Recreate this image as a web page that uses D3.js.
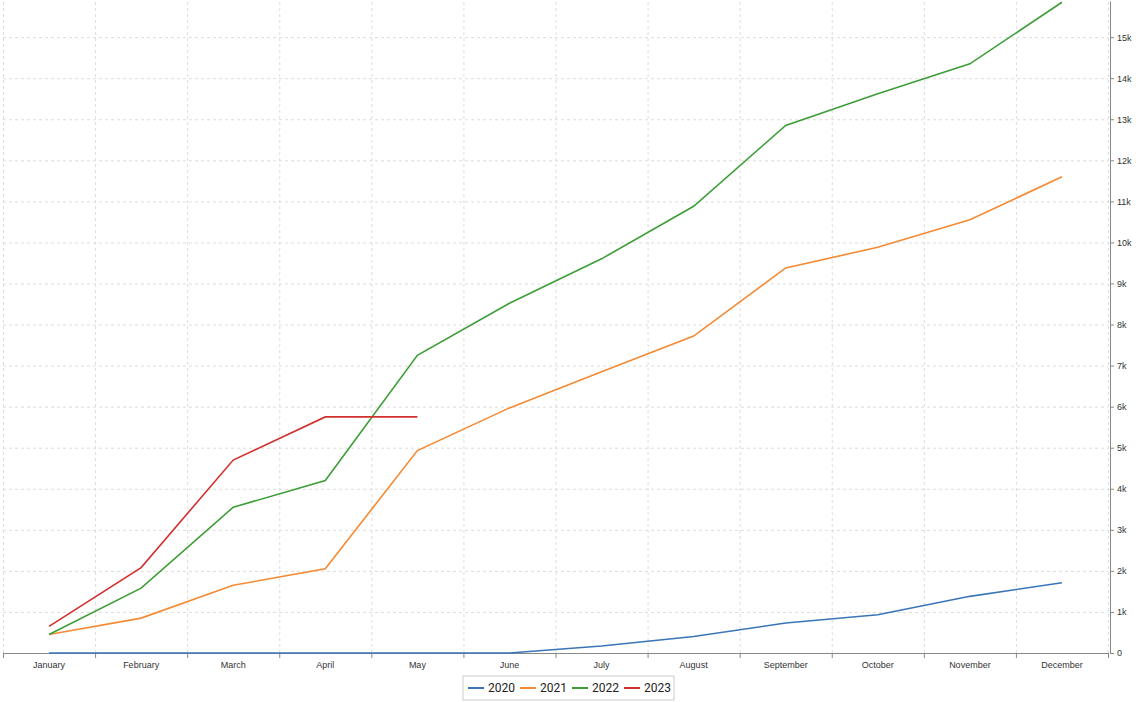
<!DOCTYPE html>
<html><head><meta charset="utf-8">
<script src="https://cdn.jsdelivr.net/npm/d3@7"></script>
<style>
body{margin:0;background:#fff;font-family:Roboto,"Noto Sans",sans-serif;}
.grid line{stroke:#ddd;stroke-dasharray:3,3;}
.grid path{display:none;}
.axis text{font-size:9px;fill:#333;}
.axis path,.axis line{stroke:#888;}
</style></head><body>
<svg id="chart" width="1140" height="702"></svg>
<script>
var months = ["January","February","March","April","May","June","July","August","September","October","November","December"];
var years = ["2020","2021","2022","2023"];
var colors = ["#3a75b9","#f58a33","#3d9e37","#d1302f"];
var v2020 = [0,0,0,0,0,0,170,400,730,930,1380,1710];
var v2021 = [450,850,1650,2050,4930,5970,6850,7720,9380,9880,10550,11600];
var v2022 = [450,1580,3550,4200,7250,8520,9600,10880,12850,13620,14350,15850];
var v2023 = [650,2080,4700,5750,5750];
var series = [v2020,v2021,v2022,v2023];
var yTicks = d3.range(0,16000,1000);

var drawChart = function () {
    var svg = d3.select("#chart");
    var pLeft = 3, pRight = 1108, pTop = 1, pBottom = 653;
    var x = d3.scaleBand().domain(months).range([pLeft,pRight]);
    var xEdges = d3.scaleLinear().domain([0,12]).range([pLeft,pRight]);
    var y = d3.scaleLinear().domain([0,15880]).range([pBottom,pTop]);

    svg.append("g").attr("class","grid")
        .attr("transform","translate(0,"+pBottom+")")
        .call(d3.axisBottom(xEdges).ticks(12).tickSize(-(pBottom-pTop)).tickFormat(""));
    svg.append("g").attr("class","grid")
        .attr("transform","translate("+pLeft+",0)")
        .call(d3.axisRight(y).tickValues(yTicks.slice(1)).tickSize(pRight-pLeft).tickFormat(""));

    svg.append("g").attr("class","axis")
        .attr("transform","translate(0,"+pBottom+")")
        .call(d3.axisBottom(x).tickSize(0).tickPadding(9))
        .call(function(g){ g.select(".domain").remove(); });
    svg.append("g").attr("class","axis")
        .attr("transform","translate(0,"+pBottom+")")
        .call(d3.axisBottom(xEdges).ticks(12).tickSize(5).tickSizeOuter(0).tickFormat(""));
    svg.append("g").attr("class","axis")
        .attr("transform","translate("+(pRight+2)+",0)")
        .call(d3.axisRight(y).tickValues(yTicks).tickSize(4).tickSizeOuter(0)
            .tickFormat(function(d){ return d===0 ? "0" : (d/1000)+"k"; }));

    var line = d3.line()
        .x(function(d,i){ return x(months[i])+x.bandwidth()/2; })
        .y(function(d){ return y(d); });
    series.forEach(function(s,i){
        svg.append("path").datum(s).attr("fill","none")
            .attr("stroke",colors[i]).attr("stroke-width",1.6).attr("d",line);
    });

    var lg = svg.append("g").attr("transform","translate(463,676)");
    lg.append("rect").attr("width",211).attr("height",24).attr("fill","#fff").attr("stroke","#ccc");
    years.forEach(function(yr,i){
        var g = lg.append("g").attr("transform","translate("+(5+i*52)+",12)");
        g.append("line").attr("x1",0).attr("x2",16).attr("stroke",colors[i]).attr("stroke-width",2);
        g.append("text").attr("x",20).attr("dy","0.35em").attr("font-size",12).attr("fill","#222").text(yr);
    });
};
drawChart();
</script></body></html>
